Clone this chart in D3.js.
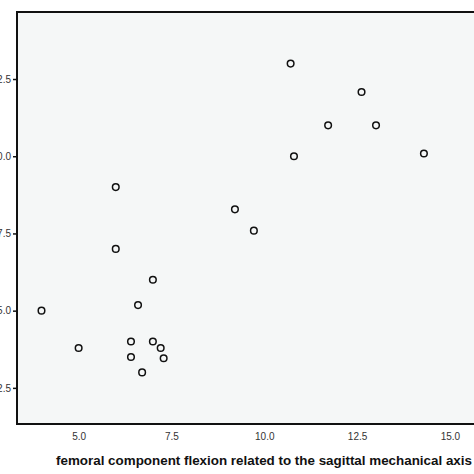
<!DOCTYPE html>
<html>
<head>
<meta charset="utf-8">
<script src="https://cdn.jsdelivr.net/npm/d3@7"></script>
<style>
  body { margin: 0; background: #fff; }
  text { font-family: "Liberation Sans", Arial, sans-serif; }
</style>
</head>
<body>
<script>
'use strict';

const xValues = [10.71, 12.62, 11.72, 13.01, 14.30, 10.80, 6.00, 9.21, 9.72,
  6.00, 7.00, 6.60, 4.00, 5.00, 6.41, 7.00, 7.21, 6.41, 7.29, 6.71];
const yValues = [13.0, 12.08, 11.0, 11.0, 10.09, 10.0, 9.0, 8.28, 7.59,
  7.0, 6.0, 5.18, 5.0, 3.79, 4.0, 4.0, 3.79, 3.5, 3.46, 3.0];
const xTicks = [5, 7.5, 10, 12.5, 15];
const yTicks = [2.5, 5, 7.5, 10, 12.5];
const xLabel = 'femoral component flexion related to the sagittal mechanical axis';

const W = 474, H = 474;
const plot = {left: 17, top: 12, right: 490, bottom: 424};

const xScale = d3.scaleLinear().domain([3.34, 16.08]).range([plot.left, plot.right]);
const yScale = d3.scaleLinear().domain([1.33, 14.67]).range([plot.bottom, plot.top]);

const svg = d3.select('body').append('svg')
    .attr('width', W)
    .attr('height', H);

svg.append('rect')
    .attr('x', plot.left).attr('y', plot.top)
    .attr('width', plot.right - plot.left).attr('height', plot.bottom - plot.top)
    .attr('fill', '#f5f7f7')
    .attr('stroke', '#111')
    .attr('stroke-width', 2);

// y labels are cut at the left edge, as in the reference
svg.append('g')
    .attr('transform', 'translate(' + plot.left + ',0)')
    .call(d3.axisLeft(yScale).tickValues(yTicks).tickFormat(d3.format('.1f')).tickSize(4).tickPadding(2))
    .call(g => g.select('.domain').remove())
    .call(g => g.selectAll('line').attr('stroke', '#111').attr('stroke-width', 1.5))
    .call(g => g.selectAll('text').attr('font-size', 10).attr('fill', '#333'));

svg.append('g')
    .attr('transform', 'translate(0,' + plot.bottom + ')')
    .call(d3.axisBottom(xScale).tickValues(xTicks).tickFormat(d3.format('.1f')).tickSize(0).tickPadding(9))
    .call(g => g.select('.domain').remove())
    .call(g => g.selectAll('text').attr('font-size', 10).attr('fill', '#333'));

svg.append('text')
    .attr('x', 264).attr('y', 465)
    .attr('text-anchor', 'middle')
    .attr('font-size', 13.4)
    .attr('font-weight', 'bold')
    .attr('fill', '#111')
    .text(xLabel);

svg.append('g')
  .selectAll('circle')
  .data(xValues.map((x, i) => ({x, y: yValues[i]})))
  .join('circle')
    .attr('cx', d => xScale(d.x))
    .attr('cy', d => yScale(d.y))
    .attr('r', 3.3)
    .attr('fill', 'none')
    .attr('stroke', '#111')
    .attr('stroke-width', 1.5);
</script>
</body>
</html>
